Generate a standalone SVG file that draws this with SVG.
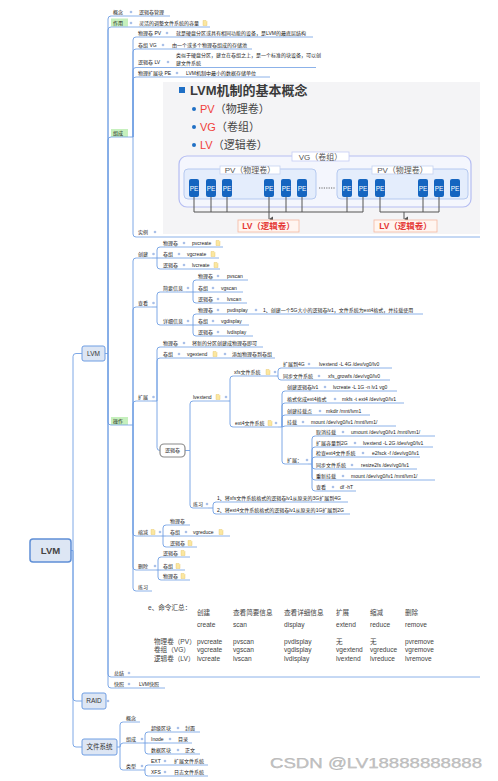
<svg xmlns="http://www.w3.org/2000/svg" xmlns:xlink="http://www.w3.org/1999/xlink" width="498" height="781" viewBox="0 0 498 781">
<style>
.t{font-family:"Liberation Sans","Noto Sans CJK SC",sans-serif;font-size:5px;fill:#1a1a1a}
.ul{stroke:#6f9ee3;stroke-width:0.8;fill:none}
.cn{stroke:#6f9ee3;stroke-width:0.9;fill:none}
.hl{fill:#c6f0bd}
.box{fill:#dde6f4;stroke:#6f9ee3;stroke-width:1}
.bt{font-family:"Liberation Sans","Noto Sans CJK SC",sans-serif;font-size:6.5px;fill:#333;text-anchor:middle}
.tb{font-family:"Liberation Sans","Noto Sans CJK SC",sans-serif;font-size:6.6px;fill:#444}
.pe{fill:#1565c0}
.pet{font-family:"Liberation Sans",sans-serif;font-size:6.5px;fill:#fff;text-anchor:middle}
.gl{stroke:#555;stroke-width:1;fill:none}
.lbl{font-family:"Liberation Sans","Noto Sans CJK SC",sans-serif;font-size:8px;fill:#555;text-anchor:middle}
.lvt{font-family:"Liberation Sans","Noto Sans CJK SC",sans-serif;font-size:8.5px;font-weight:bold;fill:#e53935;text-anchor:middle}
.big{font-family:"Liberation Sans","Noto Sans CJK SC",sans-serif;font-size:11px;fill:#444}
</style>
<defs>
<circle id="dot" r="1.3" fill="#a9c0e8"/>
<path id="note" d="M0 0 H3 L4 1 V5 H0 Z" fill="#fbe7a1" stroke="#e3c060" stroke-width="0.4"/>
<marker id="arr" markerWidth="6" markerHeight="6" refX="3" refY="5" orient="auto" markerUnits="userSpaceOnUse"><path d="M0.5 1 L3 5 L5.5 1 Z" fill="#555"/></marker>
</defs>
<rect width="498" height="781" fill="#fff"/>

<g id="connectors">
<path class="cn" d="M71 550.5 H73 M73 550.5 V356.5 Q73 353.5 76 353.5 H82 M73 550.5 V698 Q73 701 76 701 H82 M73 550.5 V744 Q73 747 76 747 H82"/>
<path class="cn" d="M105 353.5 H108 M108 353.5 V19 Q108 16 111 16 M108 353.5 V30 Q108 27 111 27 M108 353.5 V140 Q108 137 111 137 M108 353.5 V422 Q108 425 111 425 M108 353.5 V674 Q108 677 111 677 M108 353.5 V685 Q108 688 111 688"/>
<path class="cn" d="M130 137 H133 M133 137 V40 Q133 37 136 37 M133 137 V52 Q133 49 136 49 M133 137 V70.5 Q133 67.5 136 67.5 M133 137 V80 Q133 77 136 77 M133 137 V234 Q133 237 136 237"/>
<path class="cn" d="M130 425 H133 M133 425 V261 Q133 258 136 258 M133 425 V310 Q133 307 136 307 M133 425 V404 Q133 401 136 401 M133 425 V533 Q133 536 136 536 M133 425 V567 Q133 570 136 570 M133 425 V588 Q133 591 136 591"/>
<path class="cn" d="M152 258 H160 M157 258 V250 Q157 247 160 247 M157 258 V266 Q157 269 160 269"/>
<path class="cn" d="M152 307 H157 M157 307 V295 Q157 292 160 292 M157 307 V322 Q157 325 160 325"/>
<path class="cn" d="M186 292 H196 M193 292 V283 Q193 280 196 280 M193 292 V300 Q193 303 196 303"/>
<path class="cn" d="M186 325 H196 M193 325 V317 Q193 314 196 314 M193 325 V333 Q193 336 196 336"/>
<path class="cn" d="M152 401 H157 M157 401 V350 Q157 347 160 347 M157 401 V361 Q157 358 160 358 M157 401 V447.5 Q157 450.5 160 450.5"/>
<path class="cn" d="M185 450.5 H190 M190 450.5 V404 Q190 401 193 401 M190 450.5 V505 Q190 508 193 508"/>
<path class="cn" d="M228 401 H230 M230 401 V379 Q230 376 233 376 M230 401 V424 Q230 427 233 427"/>
<path class="cn" d="M276 376 H278 M278 376 V371 Q278 368 281 368 M278 376 V377 Q278 380 281 380"/>
<path class="cn" d="M278 427 H282 M282 427 V394 Q282 391 285 391 M282 427 V406 Q282 403 285 403 M282 427 V418 Q282 415 285 415 M282 427 L285 426 M282 427 V461 Q282 464 285 464"/>
<path class="cn" d="M308 464 H312 M312 464 V439 Q312 436 315 436 M312 464 V450 Q312 447 315 447 M312 464 V460 Q312 457 315 457 M312 464 V466 Q312 469 315 469 M312 464 V477 Q312 480 315 480 M312 464 V488 Q312 491 315 491"/>
<path class="cn" d="M208 508 H213 M213 508 V505 Q213 502 216 502 M213 508 V511 Q213 514 216 514"/>
<path class="cn" d="M161 536 H166 M163 536 V528 Q163 525 166 525 M163 536 V544 Q163 547 166 547"/>
<path class="cn" d="M156 570 H161 M158 570 V560 Q158 557 161 557 M158 570 V577 Q158 580 161 580"/>
<path class="cn" d="M117 747 H120 M120 747 V725 Q120 722 123 722 M120 747 Q120 743 123 743 M120 747 V767 Q120 770 123 770"/>
<path class="cn" d="M143 743 H148 M145 743 V735 Q145 732 148 732 M145 743 V751 Q145 754 148 754"/>
<path class="cn" d="M143 770 H145 M145 770 V768 Q145 765 148 765 M145 770 V773 Q145 776 148 776"/>
</g>

<g id="root">
<rect x="30" y="539" width="41" height="23" rx="3" fill="#dde6f4" stroke="#5f8fd6" stroke-width="1.5"/>
<text x="50.5" y="553.8" font-family="Liberation Sans,sans-serif" font-size="9.5" font-weight="bold" fill="#444" text-anchor="middle">LVM</text>
</g>

<g id="lvm">
<rect class="box" x="82" y="346" width="23" height="15" rx="2"/>
<text class="bt" x="93.5" y="355.8">LVM</text>
</g>
<g id="raid">
<rect class="box" x="82" y="693" width="24" height="16" rx="2"/>
<text class="bt" x="94" y="703.3">RAID</text>
<use href="#dot" x="108" y="701"/>
</g>
<g id="fs">
<rect class="box" x="82" y="739" width="35" height="16" rx="2"/>
<text class="bt" x="99.5" y="749.3">文件系统</text>
</g>

<g id="gainian">
<text class="t" x="113" y="13.8">概念</text><use href="#dot" x="131" y="12"/>
<text class="t" x="139" y="13.8">逻辑卷管理</text>
<line class="ul" x1="111" y1="16" x2="170" y2="16"/>
</g>
<g id="zuoyong">
<rect class="hl" x="111" y="18.5" width="17" height="8"/>
<text class="t" x="113" y="24.8">作用</text><use href="#dot" x="131" y="23"/>
<text class="t" x="139" y="24.8">灵活的调整文件系统的容量</text>
<use href="#note" x="203" y="20.5"/>
<line class="ul" x1="111" y1="27" x2="210" y2="27"/>
</g>
<g id="zucheng">
<rect class="hl" x="111" y="129" width="17" height="8"/>
<text class="t" x="113" y="134.8">组成</text>
<line class="ul" x1="111" y1="137" x2="130" y2="137"/>
</g>
<g id="pv">
<text class="t" x="138" y="34.8">物理卷 PV</text><use href="#dot" x="167" y="33"/>
<text class="t" x="176" y="34.8">就是硬盘分区或具有相同功能的设备，是LVM的最底层结构</text>
<line class="ul" x1="136" y1="37" x2="313" y2="37"/>
</g>
<g id="vg">
<text class="t" x="138" y="46.8">卷组 VG</text><use href="#dot" x="163" y="45"/>
<text class="t" x="172" y="46.8">由一个或多个物理卷组成的存储池</text>
<line class="ul" x1="136" y1="49" x2="252" y2="49"/>
</g>
<g id="lv">
<text class="t" x="138" y="63.8">逻辑卷 LV</text><use href="#dot" x="168" y="62"/>
<text class="t" x="176" y="56.8">类似于硬盘分区，建立在卷组之上，是一个标准的块设备，可以创</text>
<text class="t" x="176" y="64.8">建文件系统</text>
<line class="ul" x1="136" y1="67.5" x2="316" y2="67.5"/>
</g>
<g id="pe">
<text class="t" x="138" y="74.8">物理扩展块 PE</text><use href="#dot" x="177" y="73"/>
<text class="t" x="186" y="74.8">LVM机制中最小的数据存储单位</text>
<line class="ul" x1="136" y1="77" x2="270" y2="77"/>
</g>

<g id="shili">
<rect x="163" y="82" width="317" height="152" fill="#f4f4f6"/>
<rect x="179" y="87" width="6" height="6" fill="#1f6fc5"/>
<text x="190" y="94.5" font-family="Liberation Sans,Noto Sans CJK SC,sans-serif" font-size="13" font-weight="bold" fill="#3a3a3a">LVM机制的基本概念</text>
<circle cx="194" cy="109" r="2" fill="#1f6fc5"/>
<text class="big" x="200" y="113"><tspan fill="#f0403a">PV</tspan>（物理卷）</text>
<circle cx="194" cy="127" r="2" fill="#1f6fc5"/>
<text class="big" x="200" y="131"><tspan fill="#f0403a">VG</tspan>（卷组）</text>
<circle cx="194" cy="145" r="2" fill="#1f6fc5"/>
<text class="big" x="200" y="149"><tspan fill="#f0403a">LV</tspan>（逻辑卷）</text>
<rect x="179" y="156" width="292" height="51" rx="8" fill="#f4f6fd" stroke="#b5bdf2" stroke-width="1.2"/>
<rect x="292" y="152" width="57" height="9" fill="#fff" stroke="#c5cdf5" stroke-width="0.8"/>
<text class="lbl" x="320.5" y="159.5">VG（卷组）</text>
<rect x="184" y="169" width="132" height="30" rx="4" fill="#e4edfc" stroke="#b5c9f0" stroke-width="1"/>
<rect x="220" y="166" width="60" height="8" fill="#fff" stroke="#c5d3f0" stroke-width="0.8"/>
<text class="lbl" x="250" y="172.8">PV（物理卷）</text>
<rect x="337" y="169" width="131" height="30" rx="4" fill="#e4edfc" stroke="#b5c9f0" stroke-width="1"/>
<rect x="372" y="166" width="61" height="8" fill="#fff" stroke="#c5d3f0" stroke-width="0.8"/>
<text class="lbl" x="402.5" y="172.8">PV（物理卷）</text>
<g>
<rect class="pe" x="189" y="179" width="10" height="18" rx="2"/><text class="pet" x="194" y="190.5">PE</text>
<rect class="pe" x="206" y="179" width="10" height="18" rx="2"/><text class="pet" x="211" y="190.5">PE</text>
<rect class="pe" x="222" y="179" width="10" height="18" rx="2"/><text class="pet" x="227" y="190.5">PE</text>
<rect class="pe" x="264" y="179" width="10" height="18" rx="2"/><text class="pet" x="269" y="190.5">PE</text>
<rect class="pe" x="281" y="179" width="10" height="18" rx="2"/><text class="pet" x="286" y="190.5">PE</text>
<rect class="pe" x="297" y="179" width="10" height="18" rx="2"/><text class="pet" x="302" y="190.5">PE</text>
<rect class="pe" x="342" y="179" width="10" height="18" rx="2"/><text class="pet" x="347" y="190.5">PE</text>
<rect class="pe" x="358" y="179" width="10" height="18" rx="2"/><text class="pet" x="363" y="190.5">PE</text>
<rect class="pe" x="375" y="179" width="10" height="18" rx="2"/><text class="pet" x="380" y="190.5">PE</text>
<rect class="pe" x="418" y="179" width="10" height="18" rx="2"/><text class="pet" x="423" y="190.5">PE</text>
<rect class="pe" x="434" y="179" width="10" height="18" rx="2"/><text class="pet" x="439" y="190.5">PE</text>
<rect class="pe" x="450" y="179" width="10" height="18" rx="2"/><text class="pet" x="455" y="190.5">PE</text>
</g>
<line x1="319" y1="188" x2="335" y2="188" stroke="#666" stroke-width="1" stroke-dasharray="1.2 1.2"/>
<path class="gl" d="M194 197 V212 M211 197 V212 M227 197 V212 M286 197 V212 M302 197 V212 M347 197 V212 M363 197 V212 M194 212 H363 M380 197 V212 M423 197 V212 M439 197 V212 M380 212 H439"/>
<path class="gl" d="M269 197 V219" marker-end="url(#arr)"/>
<path class="gl" d="M404 212 V219" marker-end="url(#arr)"/>
<rect x="238" y="220" width="61" height="12" fill="#fff5f0" stroke="#f5b8a0" stroke-width="0.8"/>
<text class="lvt" x="268.5" y="229.2">LV（逻辑卷）</text>
<rect x="374" y="220" width="63" height="12" fill="#fff5f0" stroke="#f5b8a0" stroke-width="0.8"/>
<text class="lvt" x="405.5" y="229.2">LV（逻辑卷）</text>
<text class="t" x="138" y="233.8">实例</text><use href="#dot" x="155" y="232"/>
<line class="ul" x1="136" y1="237" x2="480" y2="237"/>
</g>

<g id="caozuo">
<rect class="hl" x="111" y="417" width="17" height="8"/>
<text class="t" x="113" y="422.8">操作</text>
<line class="ul" x1="111" y1="425" x2="130" y2="425"/>
</g>
<g id="chuangjian">
<text class="t" x="138" y="255.8">创建</text><use href="#dot" x="153.5" y="254"/>
<line class="ul" x1="136" y1="258" x2="152" y2="258"/>
</g>
<g id="c-pv">
<text class="t" x="163" y="244.8">物理卷</text><use href="#dot" x="184" y="243"/>
<text class="t" x="192" y="244.8">pvcreate</text><use href="#note" x="216" y="240.5"/>
<line class="ul" x1="160" y1="247" x2="223" y2="247"/>
</g>
<g id="c-vg">
<text class="t" x="163" y="255.8">卷组</text><use href="#dot" x="179" y="254"/>
<text class="t" x="187" y="255.8">vgcreate</text><use href="#note" x="211" y="251.5"/>
<line class="ul" x1="160" y1="258" x2="219" y2="258"/>
</g>
<g id="c-lv">
<text class="t" x="163" y="266.8">逻辑卷</text><use href="#dot" x="184" y="265"/>
<text class="t" x="192" y="266.8">lvcreate</text><use href="#note" x="214" y="262.5"/>
<line class="ul" x1="160" y1="269" x2="220" y2="269"/>
</g>

<g id="chakan">
<text class="t" x="138" y="304.8">查看</text><use href="#dot" x="153.5" y="303"/>
<line class="ul" x1="136" y1="307" x2="152" y2="307"/>
</g>
<g id="jianyao">
<text class="t" x="163" y="289.8">简要信息</text><use href="#dot" x="188" y="288"/>
<line class="ul" x1="160" y1="292" x2="186" y2="292"/>
</g>
<g id="s-pv">
<text class="t" x="198" y="277.8">物理卷</text><use href="#dot" x="218" y="276"/>
<text class="t" x="227" y="277.8">pvscan</text>
<line class="ul" x1="196" y1="280" x2="248" y2="280"/>
</g>
<g id="s-vg">
<text class="t" x="198" y="289.8">卷组</text><use href="#dot" x="213" y="288"/>
<text class="t" x="221" y="289.8">vgscan</text>
<line class="ul" x1="196" y1="292" x2="243" y2="292"/>
</g>
<g id="s-lv">
<text class="t" x="198" y="300.8">逻辑卷</text><use href="#dot" x="218" y="299"/>
<text class="t" x="227" y="300.8">lvscan</text>
<line class="ul" x1="196" y1="303" x2="247" y2="303"/>
</g>
<g id="xiangxi">
<text class="t" x="163" y="322.8">详细信息</text><use href="#dot" x="188" y="321"/>
<line class="ul" x1="160" y1="325" x2="186" y2="325"/>
</g>
<g id="d-pv">
<text class="t" x="198" y="311.8">物理卷</text><use href="#dot" x="218" y="310"/>
<text class="t" x="227" y="311.8">pvdisplay</text><use href="#dot" x="256" y="310"/>
<text class="t" x="263" y="311.8">1、创建一个5G大小的逻辑卷lv1，文件系统为ext4格式，并挂载使用</text>
<line class="ul" x1="196" y1="314" x2="423" y2="314"/>
</g>
<g id="d-vg">
<text class="t" x="198" y="322.8">卷组</text><use href="#dot" x="213" y="321"/>
<text class="t" x="221" y="322.8">vgdisplay</text>
<line class="ul" x1="196" y1="325" x2="249" y2="325"/>
</g>
<g id="d-lv">
<text class="t" x="198" y="333.8">逻辑卷</text><use href="#dot" x="218" y="332"/>
<text class="t" x="227" y="333.8">lvdisplay</text>
<line class="ul" x1="196" y1="336" x2="253" y2="336"/>
</g>

<g id="kuozhan">
<text class="t" x="138" y="398.8">扩展</text><use href="#dot" x="153.5" y="397"/>
<line class="ul" x1="136" y1="401" x2="152" y2="401"/>
</g>
<g id="e-pv">
<text class="t" x="163" y="344.8">物理卷</text><use href="#dot" x="184" y="343"/>
<text class="t" x="192" y="344.8">将新的分区创建成物理卷即可</text>
<line class="ul" x1="160" y1="347" x2="263" y2="347"/>
</g>
<g id="e-vg">
<text class="t" x="163" y="355.8">卷组</text><use href="#dot" x="179" y="354"/>
<text class="t" x="187" y="355.8">vgextend</text><use href="#note" x="213" y="351.5"/><use href="#dot" x="225" y="354"/>
<text class="t" x="232" y="355.8">添加物理卷到卷组</text>
<line class="ul" x1="160" y1="358" x2="275" y2="358"/>
</g>
<g id="e-lv">
<rect x="160" y="444" width="25" height="13" rx="4" fill="#fff" stroke="#8a8a8a" stroke-width="1.2"/>
<text class="t" x="172.5" y="452.3" text-anchor="middle">逻辑卷</text>
</g>
<g id="lvextend">
<text class="t" x="193" y="398.8">lvextend</text><use href="#note" x="216" y="394.5"/><use href="#dot" x="226" y="397"/>
<line class="ul" x1="193" y1="401" x2="228" y2="401"/>
</g>
<g id="xfs">
<text class="t" x="234" y="373.8">xfs文件系统</text><use href="#note" x="266" y="369.5"/><use href="#dot" x="275" y="372"/>
<line class="ul" x1="233" y1="376" x2="276" y2="376"/>
</g>
<g id="xfs-1">
<text class="t" x="283" y="365.8">扩展到4G</text><use href="#dot" x="309" y="364"/>
<text class="t" x="319" y="365.8">lvextend -L 4G /dev/vg0/lv0</text>
<line class="ul" x1="281" y1="368" x2="392" y2="368"/>
</g>
<g id="xfs-2">
<text class="t" x="283" y="377.8">同步文件系统</text><use href="#dot" x="319" y="376"/>
<text class="t" x="328" y="377.8">xfs_growfs /dev/vg0/lv0</text>
<line class="ul" x1="281" y1="380" x2="390" y2="380"/>
</g>
<g id="ext4">
<text class="t" x="235" y="424.8">ext4文件系统</text><use href="#note" x="268" y="420.5"/><use href="#dot" x="276" y="423"/>
<line class="ul" x1="233" y1="427" x2="278" y2="427"/>
</g>
<g id="ext4-1">
<text class="t" x="287" y="388.8">创建逻辑卷lv1</text><use href="#dot" x="325" y="387"/>
<text class="t" x="333" y="388.8">lvcreate -L 1G -n lv1 vg0</text>
<line class="ul" x1="285" y1="391" x2="397" y2="391"/>
</g>
<g id="ext4-2">
<text class="t" x="287" y="400.8">格式化成ext4格式</text><use href="#dot" x="335" y="399"/>
<text class="t" x="342" y="400.8">mkfs -t ext4 /dev/vg0/lv1</text>
<line class="ul" x1="285" y1="403" x2="404" y2="403"/>
</g>
<g id="ext4-3">
<text class="t" x="287" y="412.8">创建挂载点</text><use href="#dot" x="320" y="411"/>
<text class="t" x="326" y="412.8">mkdir /mnt/lvm1</text>
<line class="ul" x1="285" y1="415" x2="370" y2="415"/>
</g>
<g id="ext4-4">
<text class="t" x="287" y="423.8">挂载</text><use href="#dot" x="303" y="422"/>
<text class="t" x="311" y="423.8">mount /dev/vg0/lv1 /mnt/lvm1/</text>
<line class="ul" x1="285" y1="426" x2="396" y2="426"/>
</g>
<g id="ext4-5">
<text class="t" x="287" y="461.8">扩展：</text><use href="#dot" x="307" y="460"/>
<line class="ul" x1="285" y1="464" x2="308" y2="464"/>
</g>
<g id="k-1">
<text class="t" x="316" y="433.8">取消挂载</text><use href="#dot" x="343" y="432"/>
<text class="t" x="351" y="433.8">umount /dev/vg0/lv1 /mnt/lvm1/</text>
<line class="ul" x1="315" y1="436" x2="435" y2="436"/>
</g>
<g id="k-2">
<text class="t" x="316" y="444.8">扩展容量到2G</text><use href="#dot" x="355" y="443"/>
<text class="t" x="363" y="444.8">lvextend -L 2G /dev/vg0/lv1</text>
<line class="ul" x1="315" y1="447" x2="433" y2="447"/>
</g>
<g id="k-3">
<text class="t" x="316" y="454.8">检查ext4文件系统</text><use href="#dot" x="363" y="453"/>
<text class="t" x="372" y="454.8">e2fsck -f /dev/vg0/lv1</text>
<line class="ul" x1="315" y1="457" x2="420" y2="457"/>
</g>
<g id="k-4">
<text class="t" x="316" y="466.8">同步文件系统</text><use href="#dot" x="352" y="465"/>
<text class="t" x="361" y="466.8">resize2fs /dev/vg0/lv1</text>
<line class="ul" x1="315" y1="469" x2="417" y2="469"/>
</g>
<g id="k-5">
<text class="t" x="316" y="477.8">重新挂载</text><use href="#dot" x="343" y="476"/>
<text class="t" x="351" y="477.8">mount /dev/vg0/lv1 /mnt/lvm1/</text>
<line class="ul" x1="315" y1="480" x2="435" y2="480"/>
</g>
<g id="k-6">
<text class="t" x="316" y="488.8">查看</text><use href="#dot" x="333" y="487"/>
<text class="t" x="340" y="488.8">df -hT</text>
<line class="ul" x1="315" y1="491" x2="356" y2="491"/>
</g>
<g id="lianxi-lv">
<text class="t" x="193" y="505.8">练习</text><use href="#dot" x="207" y="504"/>
<line class="ul" x1="193" y1="508" x2="208" y2="508"/>
</g>
<g id="lx-1">
<text class="t" x="217" y="499.8">1、将xfs文件系统格式的逻辑卷lv1从原来的3G扩展到4G</text>
<line class="ul" x1="216" y1="502" x2="348" y2="502"/>
</g>
<g id="lx-2">
<text class="t" x="217" y="511.8">2、将ext4文件系统格式的逻辑卷lv1从原来的1G扩展到2G</text>
<line class="ul" x1="216" y1="514" x2="350" y2="514"/>
</g>

<g id="suojian">
<text class="t" x="138" y="533.8">缩减</text><use href="#note" x="151" y="529.5"/><use href="#dot" x="160" y="532"/>
<line class="ul" x1="136" y1="536" x2="161" y2="536"/>
</g>
<g id="r-pv">
<text class="t" x="170" y="522.8">物理卷</text>
<line class="ul" x1="166" y1="525" x2="190" y2="525"/>
</g>
<g id="r-vg">
<text class="t" x="170" y="533.8">卷组</text><use href="#dot" x="186" y="532"/>
<text class="t" x="193" y="533.8">vgreduce</text><use href="#note" x="219" y="529.5"/>
<line class="ul" x1="166" y1="536" x2="230" y2="536"/>
</g>
<g id="r-lv">
<text class="t" x="170" y="544.8">逻辑卷</text><use href="#note" x="188" y="540.5"/>
<line class="ul" x1="166" y1="547" x2="197" y2="547"/>
</g>
<g id="shanchu">
<text class="t" x="138" y="567.8">删除</text><use href="#dot" x="155" y="566"/>
<line class="ul" x1="136" y1="570" x2="156" y2="570"/>
</g>
<g id="x-lv">
<text class="t" x="163" y="554.8">逻辑卷</text><use href="#note" x="181" y="550.5"/>
<line class="ul" x1="161" y1="557" x2="190" y2="557"/>
</g>
<g id="x-vg">
<text class="t" x="163" y="567.8">卷组</text><use href="#note" x="176" y="563.5"/>
<line class="ul" x1="161" y1="570" x2="185" y2="570"/>
</g>
<g id="x-pv">
<text class="t" x="163" y="577.8">物理卷</text><use href="#note" x="181" y="573.5"/>
<line class="ul" x1="161" y1="580" x2="190" y2="580"/>
</g>
<g id="lianxi">
<text class="t" x="138" y="588.8">练习</text>
<line class="ul" x1="136" y1="591" x2="152" y2="591"/>
</g>

<g id="zongjie">
<text class="tb" x="148" y="610.3" font-size="6.2">e、命令汇总：</text>
<text class="tb" y="614.5"><tspan x="197">创建</tspan><tspan x="233">查看简要信息</tspan><tspan x="284">查看详细信息</tspan><tspan x="336">扩展</tspan><tspan x="370">缩减</tspan><tspan x="405">删除</tspan></text>
<text class="tb" y="626.5"><tspan x="197">create</tspan><tspan x="233">scan</tspan><tspan x="284">display</tspan><tspan x="336">extend</tspan><tspan x="370">reduce</tspan><tspan x="405">remove</tspan></text>
<text class="tb" y="643.5"><tspan x="154">物理卷（PV）</tspan><tspan x="197">pvcreate</tspan><tspan x="233">pvscan</tspan><tspan x="284">pvdisplay</tspan><tspan x="336">无</tspan><tspan x="370">无</tspan><tspan x="405">pvremove</tspan></text>
<text class="tb" y="652"><tspan x="154">卷组（VG）</tspan><tspan x="197">vgcreate</tspan><tspan x="233">vgscan</tspan><tspan x="284">vgdisplay</tspan><tspan x="336">vgextend</tspan><tspan x="370">vgreduce</tspan><tspan x="405">vgremove</tspan></text>
<text class="tb" y="660.5"><tspan x="154">逻辑卷（LV）</tspan><tspan x="197">lvcreate</tspan><tspan x="233">lvscan</tspan><tspan x="284">lvdisplay</tspan><tspan x="336">lvextend</tspan><tspan x="370">lvreduce</tspan><tspan x="405">lvremove</tspan></text>
<text class="t" x="114" y="674.8">总结</text><use href="#dot" x="129" y="673"/>
<line class="ul" x1="111" y1="677" x2="480" y2="677"/>
</g>
<g id="kuaizhao">
<text class="t" x="114" y="685.8">快照</text><use href="#dot" x="129" y="684"/>
<text class="t" x="139" y="685.8">LVM快照</text>
<line class="ul" x1="111" y1="688" x2="165" y2="688"/>
</g>

<g id="fs-gainian">
<text class="t" x="126" y="719.8">概念</text>
<line class="ul" x1="123" y1="722" x2="140" y2="722"/>
</g>
<g id="fs-zucheng">
<text class="t" x="126" y="740.8">组成</text><use href="#dot" x="142" y="739"/>
<line class="ul" x1="123" y1="743" x2="143" y2="743"/>
</g>
<g id="fs-super">
<text class="t" x="151" y="729.8">超级区块</text><use href="#dot" x="178" y="728"/>
<text class="t" x="185" y="729.8">封面</text>
<line class="ul" x1="148" y1="732" x2="200" y2="732"/>
</g>
<g id="fs-inode">
<text class="t" x="151" y="740.8">Inode</text><use href="#dot" x="170" y="739"/>
<text class="t" x="178" y="740.8">目录</text>
<line class="ul" x1="148" y1="743" x2="192" y2="743"/>
</g>
<g id="fs-data">
<text class="t" x="151" y="751.8">数据区块</text><use href="#dot" x="178" y="750"/>
<text class="t" x="185" y="751.8">正文</text>
<line class="ul" x1="148" y1="754" x2="200" y2="754"/>
</g>
<g id="fs-leixing">
<text class="t" x="126" y="767.8">类型</text><use href="#dot" x="142" y="766"/>
<line class="ul" x1="123" y1="770" x2="143" y2="770"/>
</g>
<g id="fs-ext">
<text class="t" x="151" y="762.8">EXT</text><use href="#dot" x="165" y="761"/>
<text class="t" x="174" y="762.8">扩展文件系统</text>
<line class="ul" x1="148" y1="765" x2="208" y2="765"/>
</g>
<g id="fs-xfs">
<text class="t" x="151" y="773.8">XFS</text><use href="#dot" x="165" y="772"/>
<text class="t" x="174" y="773.8">日志文件系统</text>
<line class="ul" x1="148" y1="776" x2="208" y2="776"/>
</g>

<text x="270" y="768" font-family="Liberation Sans,sans-serif" font-size="14" fill="#c4c4c4" stroke="#a8a8a8" stroke-width="0.25" textLength="212" lengthAdjust="spacingAndGlyphs">CSDN @LV18888888888</text>
</svg>
